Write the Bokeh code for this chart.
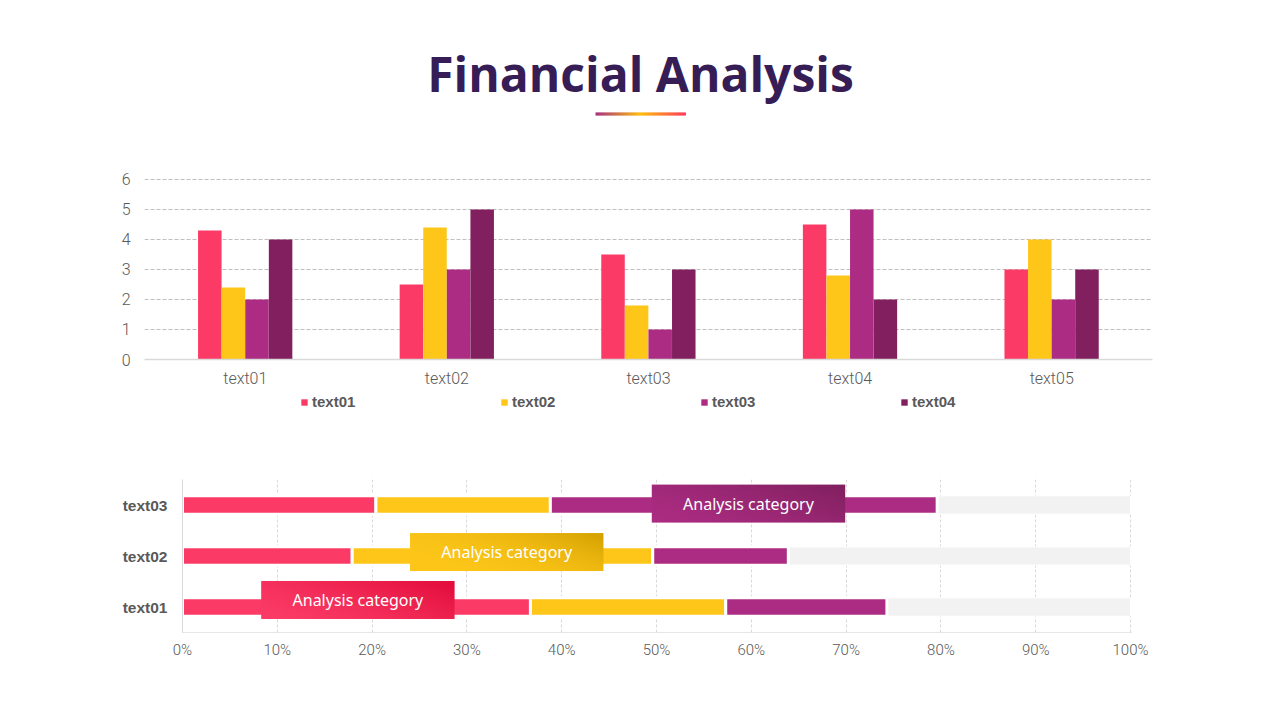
import numpy as np
from bokeh.plotting import figure
from bokeh.models import Range1d, FactorRange, FixedTicker, PrintfTickFormatter, Legend, LegendItem
from bokeh.core.properties import value
from bokeh.transform import dodge
from bokeh.embed import file_html
from bokeh.resources import INLINE

# ---------------- data ----------------
title_text = "Financial Analysis"

categories = ["text01", "text02", "text03", "text04", "text05"]
series_names = ["text01", "text02", "text03", "text04"]
series1 = [4.3, 2.5, 3.5, 4.5, 3.0]
series2 = [2.4, 4.4, 1.8, 2.8, 4.0]
series3 = [2.0, 3.0, 1.0, 5.0, 2.0]
series4 = [4.0, 5.0, 3.0, 2.0, 3.0]
value_ticks = [0, 1, 2, 3, 4, 5, 6]

rows = ["text01", "text02", "text03"]
share1 = [36.7, 17.9, 20.4]
share2 = [20.6, 31.7, 18.4]
share3 = [17.0, 14.3, 40.8]
pct_ticks = list(range(0, 101, 10))

box_label = "Analysis category"
box_left = [8.3, 24.0, 49.5]
box_bottom = [0.265, 1.205, 2.155]
box_width = 20.4
box_height = 0.745

# ---------------- styling ----------------
PINK = "#fb3b66"
YELLOW = "#fdc619"
MAGENTA = "#ab2c82"
PLUM = "#82205f"
TRACK = "#f2f2f2"
LABEL = "#595959"
THIN = "Roboto Light, Roboto"
series_colors = [PINK, YELLOW, MAGENTA, PLUM]


def hex_rgb(h):
    h = h.lstrip("#")
    return np.array([int(h[i:i + 2], 16) for i in (0, 2, 4)], dtype=float)


def lerp_hex(stops, t):
    n = len(stops) - 1
    k = min(int(t * n), n - 1)
    f = t * n - k
    c = hex_rgb(stops[k]) * (1 - f) + hex_rgb(stops[k + 1]) * f
    return "#%02x%02x%02x" % tuple(int(round(v)) for v in c)


def diagonal_rgba(c0, c1, w=160, h=32, power=1.6):
    """Gradient image: c0 in the lower-left corner, c1 in the upper-right."""
    jj, ii = np.meshgrid(np.linspace(0, 1, w), np.linspace(0, 1, h))
    t = np.clip(jj * 0.65 + ii * 0.35, 0, 1) ** power
    a, b = hex_rgb(c0), hex_rgb(c1)
    img = np.empty((h, w), dtype=np.uint32)
    view = img.view(dtype=np.uint8).reshape((h, w, 4))
    for ch in range(3):
        view[:, :, ch] = (a[ch] * (1 - t) + b[ch] * t).astype(np.uint8)
    view[:, :, 3] = 255
    return img


def bare(p):
    p.outline_line_color = None
    p.background_fill_color = "white"
    p.border_fill_color = "white"


# ---------------- heading ----------------
head = figure(width=1280, height=150, x_range=Range1d(0, 1280), y_range=Range1d(150, 0),
              x_axis_location=None, y_axis_location=None, min_border=0,
              output_backend="svg", toolbar_location=None)
bare(head)
head.grid.visible = False
head.text(x=[640], y=[73], text=[title_text], text_font=value("Open Sans"),
          text_font_style="bold", text_font_size="48px", text_color="#361d56",
          text_align="center", text_baseline="alphabetic")

# gradient underline below the heading
steps = 90
edges = np.linspace(595, 685, steps + 1)
rule_colors = [lerp_hex(["#a8327f", "#fdbe10", "#ff3d5a"], i / (steps - 1)) for i in range(steps)]
head.quad(left=edges[:-1], right=edges[1:] + 0.5, top=112, bottom=115,
          fill_color=rule_colors, line_color=None)

# ---------------- grouped column chart ----------------
bar = figure(width=1280, height=240, x_range=FactorRange(*categories), y_range=Range1d(0, 6.03),
             min_border_left=144, min_border_right=128, min_border_top=28, min_border_bottom=29,
             output_backend="svg", toolbar_location=None)
bare(bar)
source = dict(cat=categories, s1=series1, s2=series2, s3=series3, s4=series4)
offsets = [-0.176, -0.059, 0.058, 0.175]
for key, off, col in zip(["s1", "s2", "s3", "s4"], offsets, series_colors):
    bar.vbar(x=dodge("cat", off, range=bar.x_range), top=key, width=0.1166, source=source,
             fill_color=col, line_color=None)

bar.xgrid.visible = False
bar.ygrid.ticker = FixedTicker(ticks=value_ticks)
bar.ygrid.grid_line_color = "#bfbfbf"
bar.ygrid.grid_line_dash = "4 2"
bar.ygrid.grid_line_width = 1

bar.yaxis.ticker = FixedTicker(ticks=value_ticks)
bar.yaxis.axis_line_color = None
bar.yaxis.major_tick_line_color = None
bar.yaxis.minor_tick_line_color = None
bar.yaxis.major_label_standoff = 8
bar.xaxis.axis_line_color = "#d9d9d9"
bar.xaxis.axis_line_width = 1.5
bar.xaxis.major_tick_line_color = None
bar.xaxis.major_label_standoff = 3
for ax in (bar.xaxis, bar.yaxis):
    ax.major_label_text_font = THIN
    ax.major_label_text_font_size = "16px"
    ax.major_label_text_color = LABEL

# ---------------- series legend strip ----------------
# each key swatch comes from a zero-height column per series
key_strip = figure(width=1280, height=40, x_range=Range1d(0, 1), y_range=Range1d(0, 1),
                   x_axis_location=None, y_axis_location=None, min_border=0,
                   output_backend="svg", toolbar_location=None)
bare(key_strip)
key_strip.grid.visible = False
items = []
for col, name in zip(series_colors, series_names):
    r = key_strip.vbar(x=[0.5], top=[0], bottom=[0], width=0.0, fill_color=col, line_color=None)
    items.append(LegendItem(label=name, renderers=[r]))
leg = Legend(items=items, orientation="horizontal", location=(300, 20),
             glyph_width=8, glyph_height=8, label_standoff=4, label_width=188, label_height=16,
             spacing=0, padding=0, margin=0, border_line_color=None, background_fill_alpha=0,
             label_text_font="Liberation Sans", label_text_font_style="bold",
             label_text_font_size="15px", label_text_color=LABEL)
key_strip.add_layout(leg, "center")

# ---------------- 100% stacked progress bars ----------------
track = figure(width=1280, height=290, x_range=Range1d(0, 100.1), y_range=Range1d(0, 3),
               min_border_left=182, min_border_right=149, min_border_top=49, min_border_bottom=88,
               output_backend="svg", toolbar_location=None)
bare(track)
row_pos = [0.5, 1.5, 2.5]
parts = np.array([share1, share2, share3])
starts = np.vstack([np.zeros(len(rows)), np.cumsum(parts, axis=0)])
total = starts[-1]

track.hbar(y=row_pos, left=total, right=100, height=0.36, fill_color=TRACK,
           line_color="white", line_width=1)
for k, col in enumerate([PINK, YELLOW, MAGENTA]):
    track.hbar(y=row_pos, left=starts[k], right=starts[k + 1], height=0.36,
               fill_color=col, line_color="white", line_width=3)

box_pairs = [(PINK, "#e20c3b"), (YELLOW, "#d2a000"), (MAGENTA, "#7f205e")]
for i, (c0, c1) in enumerate(box_pairs):
    track.image_rgba(image=[diagonal_rgba(c0, c1, power=1.4 if i != 1 else 2.4)],
                     x=box_left[i], y=box_bottom[i], dw=box_width, dh=box_height)
track.text(x=[l + box_width / 2 for l in box_left], y=[b + box_height / 2 for b in box_bottom],
           text=[box_label] * 3, text_font=value("Noto Sans"), text_font_size="16px",
           text_color="white", text_align="center", text_baseline="middle")

track.ygrid.visible = False
track.xgrid.ticker = FixedTicker(ticks=pct_ticks)
track.xgrid.grid_line_color = "#d9d9d9"
track.xgrid.grid_line_dash = "3 2"

track.xaxis.ticker = FixedTicker(ticks=pct_ticks)
track.xaxis.formatter = PrintfTickFormatter(format="%d%%")
track.xaxis.axis_line_color = "#cfcfcf"
track.xaxis.axis_line_dash = "1 1"
track.xaxis.major_tick_line_color = None
track.xaxis.major_label_standoff = 2
track.xaxis.major_label_text_font = THIN
track.xaxis.major_label_text_font_size = "15px"
track.xaxis.major_label_text_color = LABEL

track.yaxis.ticker = FixedTicker(ticks=row_pos)
track.yaxis.major_label_overrides = {p: r for p, r in zip(row_pos, rows)}
track.yaxis.axis_line_color = "#d9d9d9"
track.yaxis.major_tick_line_color = None
track.yaxis.minor_tick_line_color = None
track.yaxis.major_label_standoff = 9
track.yaxis.major_label_text_font = "Liberation Sans"
track.yaxis.major_label_text_font_style = "bold"
track.yaxis.major_label_text_font_size = "15.5px"
track.yaxis.major_label_text_color = LABEL

# independent roots stacked on the page, each keeping its own frame
open("out.html", "w").write(file_html([head, bar, key_strip, track], INLINE))
